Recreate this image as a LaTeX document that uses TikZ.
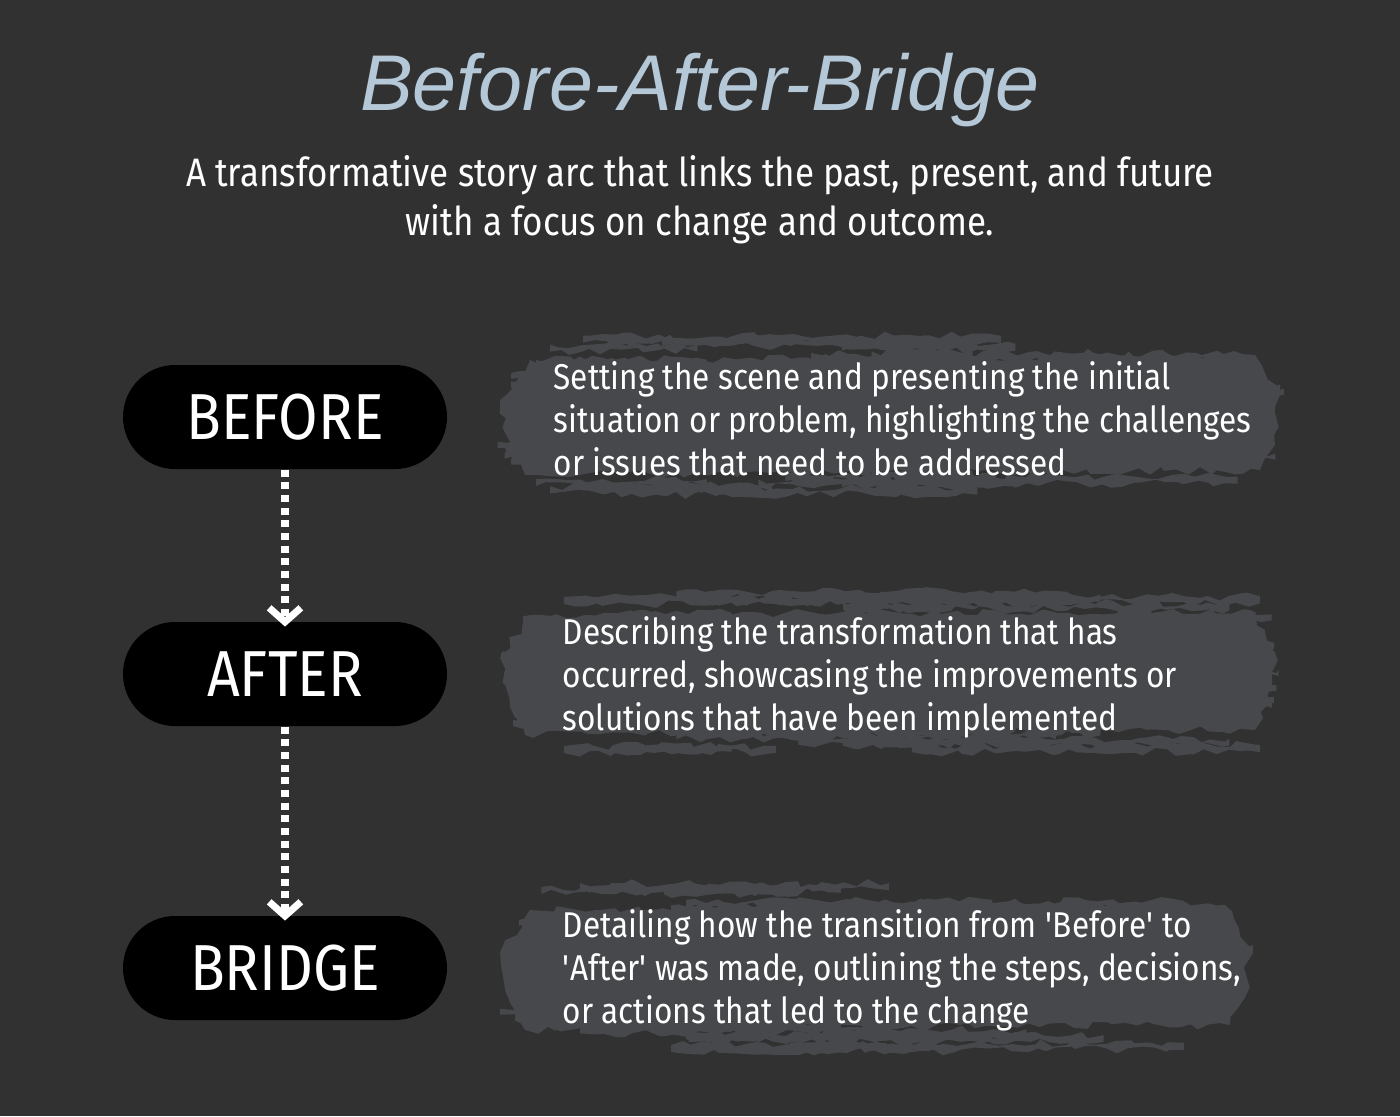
\documentclass[tikz,border=0pt]{standalone}
\usepackage{fontspec}
\setmainfont{Fira Sans}[FakeStretch=0.88]
\newfontfamily\titlefont{Liberation Sans}
\usetikzlibrary{arrows.meta,decorations.pathmorphing,positioning}
\definecolor{bgcol}{HTML}{313131}
\definecolor{brushcol}{HTML}{46484B}
\definecolor{titlecol}{HTML}{B5C8D8}
\begin{document}
\begin{tikzpicture}[
		pill/.style={fill=black,text=white,rounded corners=0.52cm,minimum width=3.24cm,
			minimum height=1.04cm,font=\fontsize{18.5}{20}\selectfont},
		desc/.style={text=white,anchor=west,align=left,inner sep=0pt,
			font=\fontsize{10.2}{12.2}\selectfont},
		brush/.style={fill=brushcol,decorate,
			decoration={random steps,segment length=3pt,amplitude=1.2pt}},
		flow/.style={white,line width=2pt,dash pattern=on 2pt off 1.6pt,shorten >=-1.5pt,
			-{Straight Barb[length=4pt,width=9pt,line width=2pt]}}]
	\pgfmathsetseed{11}
	\newcommand*{\brushstroke}[4]{%
		% body
		\fill[brush] (#1+0.3,#2+0.25) -- (#3-0.25,#2+0.3) -- (#3-0.1,{(#2+#4)/2-0.3}) -- (#3-0.05,{(#2+#4)/2+0.2})
			-- (#3-0.3,#4-0.25) -- (#1+0.35,#4-0.3) -- (#1+0.05,{(#2+#4)/2+0.15}) -- (#1+0.15,{(#2+#4)/2-0.35}) -- cycle;
		% fringe at top and bottom
		\foreach \k in {1,...,9}
			{
				\pgfmathsetmacro{\xa}{#1+0.2+rnd*0.6*(#3-#1)}
				\pgfmathsetmacro{\xb}{\xa+0.8+rnd*3.5}
				\pgfmathsetmacro{\ya}{#4-0.3+rnd*0.28}
				\pgfmathsetmacro{\yb}{#2+0.02+rnd*0.28}
				\fill[brush] (\xa,\ya) rectangle ({min(\xb,#3-0.2)},\ya-0.07);
				\fill[brush] (\xa,\yb) rectangle ({min(\xb,#3-0.2)},\yb+0.07);
			}
		% streaks at both ends
		\foreach \k in {1,...,8}
			{
				\pgfmathsetmacro{\ya}{#2+0.3+rnd*(#4-#2-0.6)}
				\pgfmathsetmacro{\yb}{#2+0.3+rnd*(#4-#2-0.6)}
				\fill[brush] (#1+rnd*0.3,\ya) rectangle (#1+0.6,\ya+0.06);
				\fill[brush] (#3-0.6,\yb) rectangle (#3-rnd*0.3,\yb+0.06);
			}
	}
	% background
	\fill[bgcol] (0,0) rectangle (14,11.16);
	\useasboundingbox (0,0) rectangle (14,11.16);
	% heading
	\node[text=titlecol,font=\titlefont\itshape\fontsize{22.5}{26}\selectfont] (title) at (7,10.26) {Before-After-Bridge};
	\node[text=white,align=center,font=\fontsize{11.3}{14}\selectfont] (sub) at (7,9.16)
		{A transformative story arc that links the past, present, and future\\with a focus on change and outcome.};
	% brush strokes behind the texts
	\brushstroke{4.95}{6.16}{12.85}{7.86}
	\brushstroke{4.95}{3.56}{12.8}{5.31}
	\brushstroke{4.95}{0.61}{12.55}{2.36}
	% stages
	\node[pill] (before) at (2.85,6.99) {BEFORE};
	\node[pill] (after) at (2.85,4.42) {AFTER};
	\node[pill] (bridge) at (2.85,1.48) {BRIDGE};
	\node[desc] (dbefore) at (5.53,6.97) {Setting the scene and presenting the initial\\situation or problem, highlighting the challenges\\or issues that need to be addressed};
	\node[desc] (dafter) at (5.62,4.39) {Describing the transformation that has\\occurred, showcasing the improvements or\\solutions that have been implemented};
	\node[desc] (dbridge) at (5.62,1.46) {Detailing how the transition from \textquotesingle Before\textquotesingle{} to\\\textquotesingle After\textquotesingle{} was made, outlining the steps, decisions,\\or actions that led to the change};
	\draw[flow] (before) -- (after);
	\draw[flow] (after) -- (bridge);
\end{tikzpicture}
\end{document}
